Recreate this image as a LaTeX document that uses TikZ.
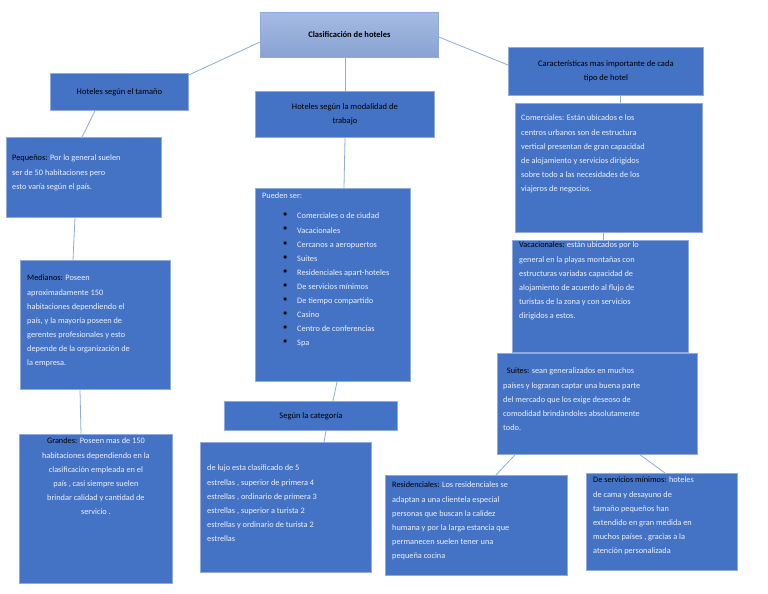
\documentclass[tikz,border=0pt]{standalone}
\usepackage{fontspec}
\setmainfont{Carlito}
\definecolor{bx}{HTML}{4472C4}
\definecolor{bd}{HTML}{8FAADC}
\definecolor{ln}{HTML}{8FAADC}
\definecolor{tt}{HTML}{EEF2FA}
\begin{document}
\begin{tikzpicture}[x=1pt,y=-1pt,
 box/.style={draw=bd,line width=0.8pt,fill=bx,rectangle,anchor=north west,inner sep=0pt},
 hd/.style={align=center,font=\fontsize{8.5}{14}\selectfont,text=black},
 tx/.style={anchor=north west,align=left,inner sep=0pt,font=\fontsize{8.3}{14.1}\selectfont,text=tt},
 con/.style={draw=ln,line width=0.8pt}]
\useasboundingbox (0,0) rectangle (768,594);
\fill[white] (0,0) rectangle (768,594);
% boxes
\node[box,top color=bd!80!white,bottom color=bd!95!black,minimum width=178,minimum height=45] (title) at (260,12) {};
\node[hd,font=\fontsize{8.5}{14}\selectfont\bfseries] at (title.center) {Clasificación de hoteles};
\node[box,minimum width=138,minimum height=37] (tam) at (50,73) {};
\node[hd] at (tam.center) {Hoteles según el tamaño};
\node[box,minimum width=179,minimum height=46] (mod) at (255,91) {};
\node[hd] at (mod.center) {Hoteles según la modalidad de\\trabajo};
\node[box,minimum width=195,minimum height=48] (car) at (508,47) {};
\node[hd] at (car.center) {Características mas importante de cada\\tipo de hotel};
\node[box,minimum width=155,minimum height=80] (peq) at (6,137) {};
\node[tx] at (12,155) {\textcolor{black}{Pequeños:} Por lo general suelen\\ser de 50 habitaciones pero\\esto varía según el país.};
\node[box,minimum width=150,minimum height=129] (med) at (20,260) {};
\node[tx] at (27,275) {\textcolor{black}{Medianos:} Poseen\\aproximadamente 150\\habitaciones dependiendo el\\país, y la mayoría poseen de\\gerentes profesionales y esto\\depende de la organización de\\la empresa.};
\node[box,minimum width=153,minimum height=149] (gra) at (19,434) {};
\node[tx,align=center] at (gra.north) [anchor=north,yshift=-4] {\textcolor{black}{Grandes:} Poseen mas de 150\\habitaciones dependiendo en la\\clasificación empleada en el\\país , casi siempre suelen\\brindar calidad y cantidad de\\servicio .};
\node[box,minimum width=155,minimum height=193] (pue) at (255,188) {};
\node[tx] at (262,193) {Pueden ser:};
\node[tx] at (283,213) {\textcolor{black}{$\bullet$}\\\textcolor{black}{$\bullet$}\\\textcolor{black}{$\bullet$}\\\textcolor{black}{$\bullet$}\\\textcolor{black}{$\bullet$}\\\textcolor{black}{$\bullet$}\\\textcolor{black}{$\bullet$}\\\textcolor{black}{$\bullet$}\\\textcolor{black}{$\bullet$}\\\textcolor{black}{$\bullet$}};
\node[tx] at (297,213) {Comerciales o de ciudad\\Vacacionales\\Cercanos a aeropuertos\\Suites\\Residenciales apart-hoteles\\De servicios mínimos\\De tiempo compartido\\Casino\\Centro de conferencias\\Spa};
\node[box,minimum width=173,minimum height=29] (cat) at (224,401) {};
\node[hd] at (cat.center) {Según la categoría};
\node[box,minimum width=171,minimum height=130] (luj) at (200,442) {};
\node[tx] at (207,465) {de lujo esta clasificado de 5\\estrellas , superior de primera 4\\estrellas , ordinario de primera 3\\estrellas , superior a turista 2\\estrellas y ordinario de turista 2\\estrellas};
\node[box,minimum width=187,minimum height=129] (com) at (515,103) {};
\node[tx] at (521,115) {Comerciales: Están ubicados e los\\centros urbanos son de estructura\\vertical presentan de gran capacidad\\de alojamiento y servicios dirigidos\\sobre todo a las necesidades de los\\viajeros de negocios.};
\node[box,minimum width=176,minimum height=112] (vac) at (512,240) {};
\node[tx] at (519,242) {\textcolor{black}{Vacacionales:} están ubicados por lo\\general en la playas montañas con\\estructuras variadas capacidad de\\alojamiento de acuerdo al flujo de\\turistas de la zona y con servicios\\dirigidos a estos.};
\node[box,minimum width=200,minimum height=101] (sui) at (497,353) {};
\node[tx] at (503,368) {\ \ \textcolor{black}{Suites:} sean generalizados en muchos\\países y lograran captar una buena parte\\del mercado que los exige deseoso de\\comodidad brindándoles absolutamente\\todo.};
\node[box,minimum width=182,minimum height=100] (res) at (385,475) {};
\node[tx] at (392,482) {\textcolor{black}{Residenciales:} Los residenciales se\\adaptan a una clientela especial\\personas que buscan la calidez\\humana y por la larga estancia que\\permanecen suelen tener una\\pequeña cocina};
\node[box,minimum width=151,minimum height=97] (ser) at (586,473) {};
\node[tx] at (593,477) {\textcolor{black}{De servicios mínimos:} hoteles\\de cama y desayuno de\\tamaño pequeños han\\extendido en gran medida en\\muchos países , gracias a la\\atención personalizada};
% connectors
\draw[con] (title.west |- 0,42) -- (tam.north east |- 0,75);
\draw[con] (345,57) -- (mod.north -| 345,0);
\draw[con] (title.east |- 0,37) -- (car.west |- 0,65);
\draw[con] (tam.south -| 95,0) -- (peq.north -| 82,0);
\draw[con] (peq.south -| 75,0) -- (med.north -| 73,0);
\draw[con] (med.south -| 80,0) -- (gra.north -| 81,0);
\draw[con] (mod.south -| 345,0) -- (pue.north -| 344,0);
\draw[con] (pue.south -| 337,0) -- (cat.north -| 333,0);
\draw[con] (cat.south -| 326,0) -- (luj.north -| 324,0);
\draw[con] (car.south -| 620,0) -- (com.north -| 620,0);
\draw[con] (com.south -| 603,0) -- (vac.north -| 603,0);
\draw[con] (vac.south -| 583,0) -- (sui.north -| 583,0);
\draw[con] (sui.south -| 515,0) -- (res.north -| 496,0);
\draw[con] (sui.south -| 640,0) -- (ser.north -| 665,0);
\end{tikzpicture}
\end{document}
